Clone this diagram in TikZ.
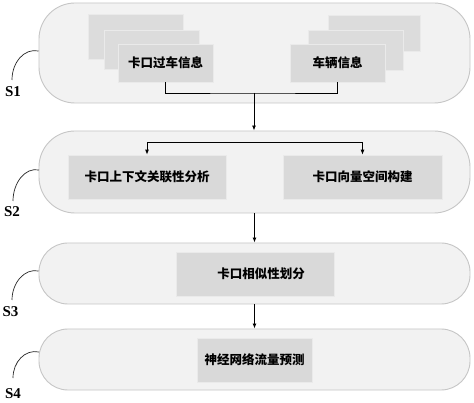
\documentclass[tikz,border=0pt]{standalone}
\usepackage{fontspec}
\setmainfont{Liberation Serif}
\newfontfamily\cjk{Noto Sans CJK SC}
\usetikzlibrary{arrows.meta,calc}
\definecolor{pillfill}{HTML}{F2F2F2}
\definecolor{pilldraw}{HTML}{C6C6C6}
\definecolor{boxfill}{HTML}{D9D9D9}
\definecolor{boxback}{HTML}{DCDCDC}
\definecolor{boxedge}{HTML}{EAEAEA}
\begin{document}
\begin{tikzpicture}[x=1pt,y=-1pt,
  pill/.style={draw=pilldraw, fill=pillfill, line width=0.9pt, rounded corners=#1, inner sep=0pt, minimum width=431},
  box/.style={fill=boxfill, draw=boxedge, line width=0.7pt, inner sep=0pt, font=\cjk\bfseries\fontsize{12.5}{14}\selectfont},
  backbox/.style={fill=boxback, draw=boxedge, line width=0.7pt, inner sep=0pt},
  txt/.style={inner sep=0pt, font=\cjk\bfseries\fontsize{12.5}{14}\selectfont},
  lab/.style={inner sep=0pt, font=\bfseries\fontsize{15}{15}\selectfont},
  conn/.style={line width=0.9pt, black},
  arr/.style={conn, -{Latex[length=5pt,width=4pt]}},
  curv/.style={line width=0.7pt, black!85}]
\fill[white] (0,0) rectangle (474,403);
\useasboundingbox (0,0) rectangle (474,403);

% pills
\node[pill=36, minimum height=100] (p1) at (254.5,53) {};
\node[pill=36, minimum height=82] (p2) at (254.5,172) {};
\node[pill=29, minimum height=61] (p3) at (254.5,273.5) {};
\node[pill=29, minimum height=61] (p4) at (254.5,359.5) {};

% S1 stacks
\node[backbox, minimum width=95, minimum height=45] (lb) at (135.5,36.5) {};
\node[backbox, minimum width=95, minimum height=39] (lm) at (151.5,49.5) {};
\node[box, minimum width=95, minimum height=38] (lf) at (165.5,63) {卡口过车信息};
\node[backbox, minimum width=92, minimum height=36] (rb) at (374,33) {};
\node[backbox, minimum width=95, minimum height=40] (rm) at (355.5,50) {};
\node[box, minimum width=95, minimum height=38] (rf) at (337.5,63) {车辆信息};

% S2 boxes
\node[box, minimum width=158, minimum height=44] (b21) at (147,177) {卡口上下文关联性分析};
\node[box, minimum width=159, minimum height=44] (b22) at (362.5,177) {卡口向量空间构建};

% S3 box
\node[box, minimum width=158, minimum height=44] (b3) at (255,274) {};
\node[txt] (t3) at (261,274) {卡口相似性划分};

% S4 box
\node[box, minimum width=115, minimum height=44] (b4) at (254.5,360) {神经网络流量预测};

% connectors
\coordinate (j) at (254,93);
\draw[conn] (lf.south) |- (j) -| (rf.south);
\draw[arr] (j) -- (j |- p2.north);
\draw[arr] (b21.north) ++(0,-12) coordinate (k) -| (b22.north);
\draw[arr] (k) -- (b21.north);
\draw[arr] (p2.south) -- (p3.north);
\draw[arr] (p3.south) -- (p4.north);

% step labels
\node[lab] (s1) at (13,92) {S1};
\node[lab] (s2) at (12,212) {S2};
\node[lab] (s3) at (10.5,312) {S3};
\node[lab] (s4) at (13,394) {S4};
\coordinate (c1a) at (12,80);  \coordinate (c1b) at (38.5,51);
\coordinate (c2a) at (13,201); \coordinate (c2b) at (39,170);
\coordinate (c3a) at (12,300); \coordinate (c3b) at (38.5,271);
\coordinate (c4a) at (13,378); \coordinate (c4b) at (39,352);
\draw[curv] (c1a) .. controls +(0,-18) and +(-14,-3) .. (c1b);
\draw[curv] (c2a) .. controls +(0,-18) and +(-14,-3) .. (c2b);
\draw[curv] (c3a) .. controls +(0,-17) and +(-14,-3) .. (c3b);
\draw[curv] (c4a) .. controls +(0,-16) and +(-14,-3) .. (c4b);
\end{tikzpicture}
\end{document}
